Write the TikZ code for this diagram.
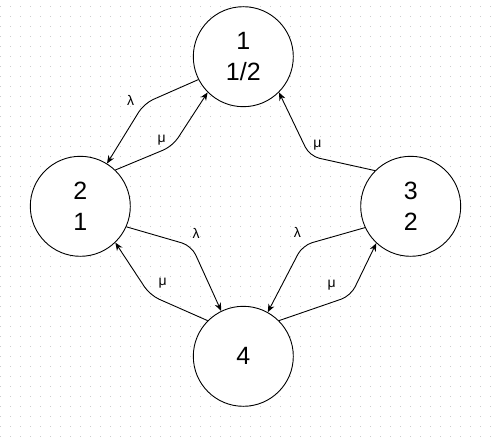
\documentclass[tikz,border=0pt]{standalone}
\usepackage{fontspec}
\setmainfont{Liberation Sans}
\usetikzlibrary{arrows.meta}
\definecolor{gridc}{RGB}{205,205,205}
\begin{document}
\begin{tikzpicture}[x=1pt,y=-1pt,
  state/.style={circle, draw=black, line width=0.9pt, minimum size=100pt, inner sep=0pt, fill=white, font=\fontsize{25}{31}\selectfont, align=center},
  lab/.style={inner sep=0pt, font=\fontsize{14}{16}\selectfont},
  edge/.style={line width=0.9pt, rounded corners=10pt, -{Stealth[length=8pt,width=6.5pt]}}]
\fill[white] (0,0) rectangle (497,446);
\useasboundingbox (0,0) rectangle (497,446);
\foreach \i in {0,...,49}{\foreach \j in {0,...,43}{\fill[gridc] (\i*10,\j*10+6) rectangle ++(1,1);}}
\node[state] (n1) at (243.3,56.7) {1\\1/2};
\node[state] (n2) at (80.3,206.3) {2\\1};
\node[state] (n3) at (410.7,206.3) {3\\2};
\node[state] (n4) at (243.3,356.3) {4};
\coordinate (w1) at (144,103.5);
\coordinate (w2) at (172.6,146.2);
\coordinate (w3) at (191.5,245.7);
\coordinate (w4) at (150,295.2);
\coordinate (w5) at (309.6,156.1);
\coordinate (w6) at (302.5,245.4);
\coordinate (w7) at (350.7,295.9);
\draw[edge] (n1.207.6) -- (w1) -- (n2.58.6);
\draw[edge] (n2.46) -- (w2) -- (n1.225);
\draw[edge] (n2.336) -- (w3) -- (n4.116);
\draw[edge] (n4.135) -- (w4) -- (n2.314);
\draw[edge] (n3.135) -- (w5) -- (n1.315);
\draw[edge] (n3.205.4) -- (w6) -- (n4.61.4);
\draw[edge] (n4.45) -- (w7) -- (n3.227);
\node[lab] (l1) at (130.7,100) {λ};
\node[lab] (l2) at (161.7,140.5) {μ};
\node[lab] (l3) at (196,233.3) {λ};
\node[lab] (l4) at (162.7,282.7) {μ};
\node[lab] (l5) at (317.3,145) {μ};
\node[lab] (l6) at (297.3,232.3) {λ};
\node[lab] (l7) at (331.7,285) {μ};
\end{tikzpicture}
\end{document}
